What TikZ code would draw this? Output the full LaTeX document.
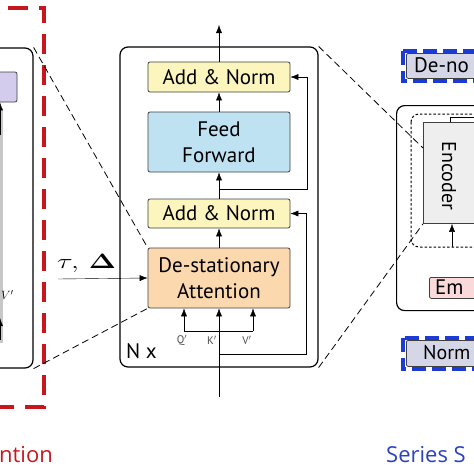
\documentclass[tikz,border=0pt]{standalone}
\usepackage[no-math]{fontspec}
\setmainfont{PT Sans}
\newfontfamily\captfont{Open Sans}
\usepackage{xcolor}
\usepackage{graphicx}
\usetikzlibrary{arrows.meta}

\definecolor{anyellow}{HTML}{FCF5BE}
\definecolor{ffblue}{HTML}{BFE2F2}
\definecolor{attorange}{HTML}{FBD8AE}
\definecolor{embpink}{HTML}{F9D9D9}
\definecolor{encgray}{HTML}{EEEEEE}
\definecolor{normgray}{HTML}{D5D7E6}
\definecolor{prevpurple}{HTML}{D4CCEC}
\definecolor{capred}{HTML}{C8161E}
\definecolor{capblue}{HTML}{1C3BD6}
\definecolor{txtblue}{HTML}{2B42C0}

\tikzset{
  >={Latex[length=8pt,width=6pt]},
  blk/.style={draw=black!75, line width=0.8pt, rounded corners=2pt, inner sep=0pt,
    align=center, font=\fontsize{21}{26}\selectfont},
  outer/.style={draw, line width=1.2pt, rounded corners=8pt, fill=white, inner sep=0pt},
  zoomline/.style={dash pattern=on 7pt off 4pt, line width=0.8pt},
  bluedash/.style={draw=capblue, line width=4pt, dash pattern=on 14pt off 6pt}
}

\begin{document}
\begin{tikzpicture}[x=1pt,y=-1pt]
\useasboundingbox (0,0) rectangle (474,474);

% left: previous panel (cut off)
\draw[capred, line width=4pt, dash pattern=on 20pt off 11pt] (-10,8) rectangle (44,407);
\node[outer, minimum width=120pt, minimum height=320pt] (prev) at (-27,208) {};
\node[blk, fill=prevpurple, minimum width=57pt, minimum height=30pt] (pbox) at (-11.5,87) {};
\node[fill=black!22, inner sep=0pt, minimum width=23pt, minimum height=233pt] (gbar) at (-8.5,226.5) {};
\coordinate (garr) at (0,135);
\draw[->] (garr) -- (garr |- pbox.south);
\coordinate (garr2) at (0,340);
\draw[->] (garr2) -- ++(0,-22);
\node[font=\fontsize{13}{13}\selectfont, anchor=west, inner sep=0pt] (vlab) at (1,295) {$V'$};
\node[text=capred, font=\captfont\fontsize{22}{22}\selectfont, anchor=west, inner sep=0pt] (lcap) at (-1,455) {ntion};

% middle: one layer
\node[outer, minimum width=198pt, minimum height=320pt] (layer) at (219,207) {};
\node[blk, fill=anyellow, minimum width=142pt, minimum height=30pt] (an2) at (219,77) {Add \& Norm};
\node[blk, fill=ffblue, minimum width=142pt, minimum height=60pt] (ff) at (219,142) {Feed\\Forward};
\node[blk, fill=anyellow, minimum width=142pt, minimum height=29pt] (an1) at (219,213.5) {Add \& Norm};
\node[blk, fill=attorange, minimum width=142pt, minimum height=60pt] (dsa) at (219,278) {De-stationary\\Attention};
\node[anchor=west, inner sep=0pt, font=\fontsize{21}{21}\selectfont] (nx) at (126,351) {N x};

\coordinate (out) at (219,25);
\draw[->] (an2.north) -- (out);
\draw[->] (ff.north) -- (an2.south);
\draw[->] (an1.north) -- (ff.south);
\draw[->] (dsa.north) -- (an1.south);

% input and Q' K' V'
\coordinate (in) at (219,397);
\draw[->] (in) -- (dsa.south);
\coordinate (qb) at (184,331);
\coordinate (vb) at (253,331);
\draw (qb) -- (vb);
\draw[->] (qb) -- (qb |- dsa.south);
\draw[->] (vb) -- (vb |- dsa.south);
\node[text=black!70, font=\fontsize{11}{11}\selectfont] (ql) at (182,340) {Q$'$};
\node[text=black!70, font=\fontsize{11}{11}\selectfont] (kl) at (212,340) {K$'$};
\node[text=black!70, font=\fontsize{11}{11}\selectfont] (vl) at (247,340) {V$'$};

% residual paths
\coordinate (r1) at (219,354);
\coordinate (r1e) at (306,354);
\draw[->] (r1) -- (r1e) |- (an1.east);
\coordinate (r2) at (219,189);
\coordinate (r2e) at (307,189);
\draw[->] (r2) -- (r2e) |- (an2.east);

% tau, delta
\coordinate (td) at (58,279);
\draw[->] (td) -- (dsa.west);
\node[anchor=south west, inner sep=1pt, font=\fontsize{20}{20}\selectfont] (tdl) at (56,274) {\scalebox{1.4}[1]{$\tau,\,\mathbf{\Delta}$}};

% right: series stationarization (cut off)
\node[blk, fill=normgray, minimum width=94pt, minimum height=25pt, anchor=north west] (denorm) at (406,53) {};
\draw[bluedash] (403,50.5) rectangle (510,80.5);
\node[anchor=west, inner sep=0pt, font=\fontsize{21}{21}\selectfont] (denl) at (414,65.5) {De-no};

\node[outer, minimum width=104pt, minimum height=205pt, anchor=north west] (model) at (396,105) {};
\draw[dash pattern=on 2.5pt off 2pt, line width=1pt, rounded corners=8pt] (411,114) rectangle (500,247);
\node[blk, fill=encgray, rounded corners=0pt, minimum width=57pt, minimum height=101pt, anchor=north west] (enc) at (423,122) {};
\node[rotate=-90, font=\fontsize{20}{20}\selectfont, inner sep=0pt] (encl) at (449,176) {Encoder};
\coordinate (enctop) at (450,117);
\draw (enc.north -| enctop) -- (enctop) -- ++(40,0);
\coordinate (encin) at (452,247);
\draw[->] (encin) -- (encin |- enc.south);
\node[blk, fill=embpink, minimum width=71pt, minimum height=21pt, anchor=north west] (emb) at (429,277) {};
\node[anchor=west, inner sep=0pt, font=\fontsize{21}{21}\selectfont] (embl) at (435,287.5) {Em};

\node[blk, fill=normgray, minimum width=94pt, minimum height=26pt, anchor=north west] (norm) at (406,340) {};
\draw[bluedash] (403,337.5) rectangle (510,368.5);
\node[anchor=west, inner sep=0pt, font=\fontsize{20}{20}\selectfont] (norml) at (423,353) {Norm};
\node[text=txtblue, font=\captfont\fontsize{22}{22}\selectfont, anchor=west, inner sep=0pt] (rcap) at (386,455) {Series S};

% zoom lines
\coordinate (encw) at (423,148);
\draw[zoomline] (prev.north east) -- (dsa.north west);
\draw[zoomline] (prev.south east) -- (dsa.south west);
\draw[zoomline] (layer.north east) -- (encw);
\draw[zoomline] (layer.south east) -- (enc.south west);

\end{tikzpicture}
\end{document}
